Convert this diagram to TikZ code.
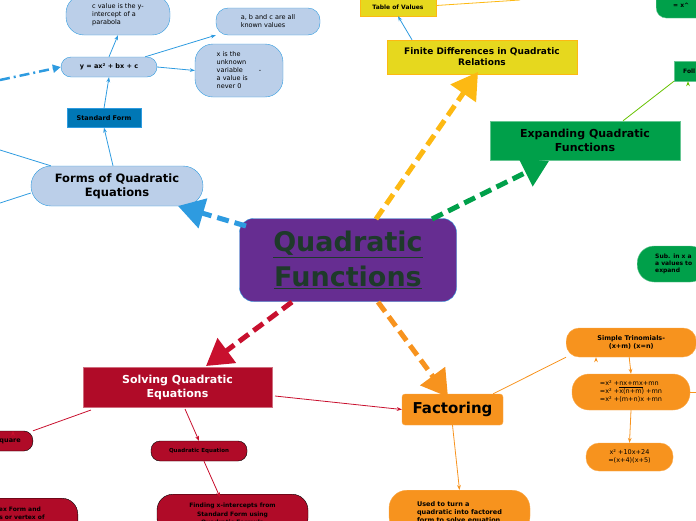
\documentclass[tikz,border=0pt]{standalone}
\usepackage{fontspec}
\setmainfont{DejaVu Sans}
\usetikzlibrary{arrows.meta}
\definecolor{lb}{HTML}{BBCFE9}\definecolor{bb}{HTML}{2E9BE0}
\definecolor{pur}{HTML}{662D91}\definecolor{yel}{HTML}{E6D81E}
\definecolor{org}{HTML}{F7931E}\definecolor{grn}{HTML}{00A04A}
\definecolor{red}{HTML}{B00B28}\definecolor{gold}{HTML}{FDB913}
\definecolor{sb}{HTML}{0077B5}\definecolor{bred}{HTML}{C8102E}
\definecolor{ttl}{HTML}{1E3A2A}
\tikzset{
 base/.style={inner sep=2pt,align=center,font=\bfseries},
 blu/.style={base,fill=lb,draw=bb,rounded corners=10pt,font=\fontsize{6.5}{8}\selectfont,align=left},
 grb/.style={base,fill=grn,draw=grn!60!white},
 rd/.style={base,fill=red,draw=black,rounded corners=9pt,font=\fontsize{6.5}{8}\selectfont\bfseries},
 og/.style={base,fill=org,draw=org!80!white,rounded corners=11pt,font=\fontsize{6.5}{8}\selectfont\bfseries},
 big/.style={line width=5pt,dash pattern=on 12pt off 6pt,-{Triangle[length=26pt,width=30pt]}},
 thin/.style={line width=0.8pt,-{Stealth[length=5pt]}}
}
\begin{document}
\begin{tikzpicture}[x=1pt,y=-1pt]
\useasboundingbox (0,0) rectangle (696,520);
\clip (0,0) rectangle (696,520);
% nodes
\node[base,fill=pur,draw=bb,rounded corners=14pt,minimum width=217pt,minimum height=83pt,text=ttl,font=\fontsize{27}{35}\selectfont\bfseries] (c) at (348,260) {\underline{Quadratic}\\\underline{Functions}};
\node[base,fill=lb,draw=bb,rounded corners=20pt,minimum width=172pt,minimum height=40pt,font=\fontsize{11.5}{14}\selectfont\bfseries] (forms) at (117,186) {Forms of Quadratic\\Equations};
\node[base,fill=sb,draw=bb,minimum width=74pt,minimum height=19pt,font=\fontsize{6.5}{8}\selectfont\bfseries] (sf) at (104,118) {Standard Form};
\node[blu,align=center,minimum width=96pt,minimum height=20pt,font=\fontsize{6.5}{8}\selectfont\bfseries] (y) at (109,67) {y = ax² + bx + c};
\node[blu,minimum width=104pt,minimum height=40pt,rounded corners=18pt] (cv) at (118,15) {c value is the y-\\intercept of a\\parabola};
\node[blu,minimum width=104pt,minimum height=27pt,rounded corners=12pt] (abc) at (268,21.5) {a, b and c are all\\known values};
\node[blu,minimum width=88pt,minimum height=53pt,rounded corners=18pt] (xu) at (239,70.5) {x is the\\unknown\\variable\hspace{16pt}-\\a value is\\never 0};
\node[base,fill=yel,draw=gold,minimum width=190pt,minimum height=34pt,font=\fontsize{9}{11}\selectfont\bfseries] (fd) at (482,57) {Finite Differences in Quadratic\\Relations};
\node[base,fill=yel,draw=gold,minimum width=76pt,minimum height=17pt,font=\fontsize{6}{7}\selectfont\bfseries] (tv) at (398,7.5) {Table of Values};
\node[grb,minimum width=190pt,minimum height=39pt,font=\fontsize{11}{14}\selectfont\bfseries] (ex) at (585,140.5) {Expanding Quadratic\\Functions};
\node[grb,anchor=west,minimum width=30pt,minimum height=20pt,font=\fontsize{6}{7}\selectfont\bfseries] (fo) at (674,71) {Foll};
\node[grb,anchor=west,rounded corners=10pt,minimum width=50pt,minimum height=28pt,font=\fontsize{6}{7}\selectfont\bfseries,align=right] (xx) at (656,4) {\\= x\textasciicircum};
\node[grb,anchor=west,rounded corners=17pt,minimum width=70pt,minimum height=36pt,align=left,font=\fontsize{6}{7}\selectfont\bfseries,text width=58pt] (sub) at (637,264) {\hspace*{12pt}Sub. in x a\\\hspace*{12pt}a values to\\\hspace*{12pt}expand};
\node[base,fill=red,draw=red!60!white,minimum width=189pt,minimum height=40pt,text=white,font=\fontsize{11}{14}\selectfont\bfseries] (sol) at (177.5,387) {Solving Quadratic\\Equations};
\node[rd,anchor=east,minimum width=60pt,minimum height=20pt] (sq) at (33,441) {\hspace{10pt}Square};
\node[rd,minimum width=96pt,minimum height=20pt,font=\fontsize{5.5}{7}\selectfont\bfseries] (qe) at (199,451) {Quadratic Equation};
\node[rd,anchor=north,minimum width=151pt,minimum height=40pt,rounded corners=16pt,font=\fontsize{6}{8.5}\selectfont\bfseries] (fx) at (232.5,494) {Finding x-intercepts from\\Standard Form using\\Quadratic Formula};
\node[rd,anchor=north east,minimum width=130pt,minimum height=40pt,rounded corners=16pt,font=\fontsize{6}{8.5}\selectfont\bfseries] (vf) at (78,498) {Vertex Form and\\values or vertex of\\the parabola};
\node[base,fill=org,draw=org!80!white,rounded corners=3pt,minimum width=101pt,minimum height=31pt,font=\fontsize{15}{18}\selectfont\bfseries] (fa) at (452.5,409.5) {Factoring};
\node[og,minimum width=130pt,minimum height=29pt,anchor=west,rounded corners=13pt] (st) at (566,342.5) {Simple Trinomials-\\(x+m) (x=n)};
\node[og,minimum width=118pt,minimum height=36pt,rounded corners=17pt,font=\fontsize{6.5}{8}\selectfont,align=left] (eq) at (631,392) {=x² +\underline{nx+mx}+mn\\=x² +x(n+m) +mn\\=x² +(m+n)x +mn};
\node[og,minimum width=87pt,minimum height=28pt,rounded corners=13pt,font=\fontsize{6.5}{8}\selectfont] (ex2) at (629.5,457) {x² +10x+24\\=(x+4)(x+5)};
\node[og,anchor=north,minimum width=141pt,minimum height=44pt,rounded corners=18pt,align=left] (ut) at (459.5,490) {Used to turn a\\quadratic into factored\\form to solve equation};
% coordinates
\coordinate (l1) at (0,150);\coordinate (l2) at (0,203);\coordinate (l3) at (0,80);
\coordinate (t1) at (520,0);\coordinate (r1) at (696,392);
% big arrows
\draw[big,bb] (246,226) -- (178,206);
\draw[big,gold] (376,219) -- (478,72);
\draw[big,grn] (432,219) -- (549,161);
\draw[big,bred] (292,302) -- (206,366);
\draw[big,org] (378,302) -- (448,397);
% thin connectors
\draw[bb,line width=0.8pt] (forms.north west)++(20,0) -- (l1);
\draw[bb,line width=0.8pt] (forms.west)++(0,7) -- (l2);
\draw[bb,line width=2.5pt,dash pattern=on 10pt off 4pt on 2pt off 4pt,-{Triangle[length=8pt,width=8pt]}] (l3) -- (y.west);
\draw[thin,bb] (forms.north) ++(-4,0) -- (sf.south);
\draw[thin,bb] (sf.north) -- (y.south);
\draw[thin,bb] (y.north) -- (cv.south);
\draw[thin,bb] (y.north east)++(-12,0) -- (abc.south west);
\draw[thin,bb] (y.east) -- (xu.west);
\draw[thin,bb] (fd.north)++(-70,0) -- (tv.south);
\draw[gold,line width=0.8pt] (tv.east)++(0,-2) -- (t1);
\draw[thin,green!60!black!60!yellow] (ex.north)++(38,0) -- (fo.south west)++(14,0);
\draw[thin,bred] (91,410) -- (sq.north east)++(-20,0);
\draw[thin,bred] (185,409) -- (qe.north);
\draw[thin,bred] (qe.south)++(5,0) -- ++(16,36);
\draw[thin,bred] (275,396) -- (fa.west);
\draw[thin,org] (fa.north east)++(-10,0) -- (st.south west)++(30,0);
\draw[thin,org] (st.south)++(-2,0) -- (eq.north);
\draw[thin,org] (eq.south) -- (ex2.north);
\draw[org,line width=0.8pt] (eq.east) -- (r1);
\draw[thin,org] (fa.south) -- (ut.north);
\end{tikzpicture}
\end{document}
